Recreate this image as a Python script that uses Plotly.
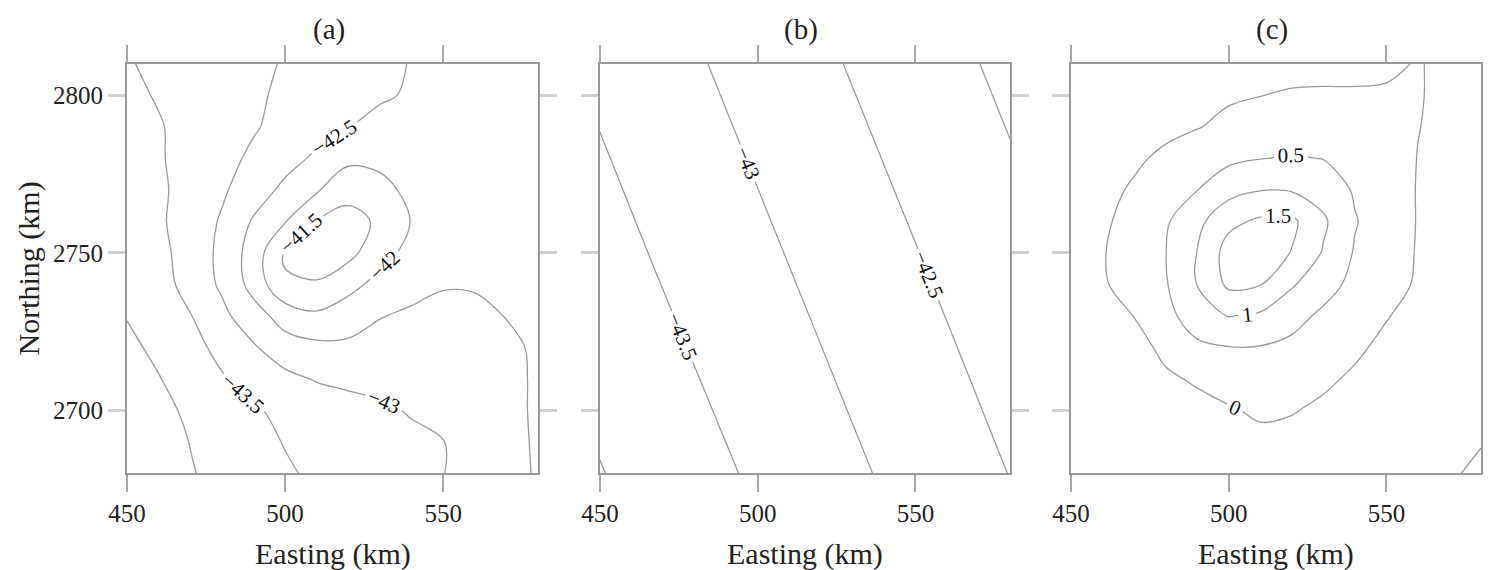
import plotly.graph_objects as go

# ---------------- data ----------------
easting = [450, 460, 470, 480, 490, 500, 510, 520, 530, 540, 550, 560, 570, 580]
northing = [2810, 2800, 2790, 2780, 2770, 2760, 2750, 2740, 2730, 2720, 2710, 2700, 2690, 2680]

# panel (a): rows follow `northing` (top to bottom), columns follow `easting`
field_a = [
    [-43.53, -43.42, -43.31, -43.20, -43.09, -42.97, -42.85, -42.73, -42.61, -42.48, -42.36, -42.24, -42.12, -42.03],
    [-43.59, -43.47, -43.33, -43.20, -43.06, -42.93, -42.81, -42.69, -42.56, -42.45, -42.36, -42.27, -42.17, -42.08],
    [-43.64, -43.53, -43.37, -43.20, -43.04, -42.86, -42.68, -42.52, -42.35, -42.30, -42.25, -42.20, -42.17, -42.12],
    [-43.66, -43.54, -43.35, -43.14, -42.92, -42.67, -42.42, -42.10, -42.10, -42.22, -42.30, -42.30, -42.28, -42.25],
    [-43.70, -43.58, -43.33, -43.07, -42.74, -42.39, -42.05, -41.70, -41.88, -42.10, -42.20, -42.30, -42.33, -42.33],
    [-43.77, -43.57, -43.29, -42.95, -42.45, -42.03, -41.48, -41.30, -41.59, -42.02, -42.25, -42.38, -42.42, -42.42],
    [-43.85, -43.64, -43.29, -42.89, -42.28, -41.45, -41.20, -41.35, -41.82, -42.15, -42.30, -42.38, -42.40, -42.40],
    [-43.90, -43.68, -43.34, -42.92, -42.33, -41.55, -41.55, -41.85, -42.15, -42.35, -42.47, -42.47, -42.45, -42.43],
    [-43.98, -43.75, -43.52, -43.12, -42.70, -42.30, -42.08, -42.25, -42.48, -42.57, -42.62, -42.58, -42.49, -42.42],
    [-44.10, -43.90, -43.65, -43.37, -43.05, -42.70, -42.62, -42.60, -42.66, -42.72, -42.73, -42.68, -42.57, -42.45],
    [-44.25, -44.02, -43.78, -43.54, -43.33, -43.13, -42.96, -42.88, -42.84, -42.82, -42.80, -42.72, -42.60, -42.45],
    [-44.35, -44.12, -43.92, -43.73, -43.54, -43.41, -43.30, -43.19, -43.08, -42.96, -42.84, -42.71, -42.58, -42.46],
    [-44.40, -44.18, -43.99, -43.81, -43.63, -43.48, -43.38, -43.29, -43.19, -43.10, -43.01, -42.82, -42.63, -42.45],
    [-44.45, -44.20, -44.03, -43.87, -43.71, -43.55, -43.43, -43.32, -43.22, -43.11, -43.01, -42.82, -42.64, -42.46],
]

# panel (b): planar trend surface, corner / mid values
easting_b = [450, 515, 580]
northing_b = [2810, 2745, 2680]
field_b = [
    [-43.40, -42.64, -41.89],
    [-43.70, -42.945, -42.19],
    [-44.02, -43.25, -42.49],
]

# panel (c): residual surface
field_c = [
    [-0.30, -0.30, -0.30, -0.25, -0.20, -0.15, -0.12, -0.10, -0.10, -0.10, -0.06, 0.02, -0.08, -0.15],
    [-0.35, -0.30, -0.25, -0.20, -0.12, -0.05, -0.005, 0.03, 0.04, 0.04, 0.04, 0.02, -0.08, -0.15],
    [-0.40, -0.30, -0.22, -0.12, -0.02, 0.10, 0.20, 0.28, 0.30, 0.26, 0.17, 0.01, -0.10, -0.20],
    [-0.40, -0.25, -0.08, 0.10, 0.26, 0.40, 0.49, 0.53, 0.49, 0.38, 0.22, -0.01, -0.12, -0.20],
    [-0.30, -0.14, 0.06, 0.30, 0.49, 0.82, 0.98, 0.96, 0.78, 0.45, 0.22, -0.02, -0.12, -0.20],
    [-0.25, -0.08, 0.18, 0.44, 0.86, 1.38, 1.58, 1.60, 1.08, 0.53, 0.25, -0.02, -0.12, -0.20],
    [-0.25, -0.03, 0.24, 0.49, 1.01, 1.70, 1.80, 1.48, 0.96, 0.46, 0.22, -0.03, -0.12, -0.20],
    [-0.30, -0.05, 0.20, 0.46, 1.01, 1.60, 1.52, 1.05, 0.72, 0.35, 0.17, -0.05, -0.15, -0.22],
    [-0.45, -0.25, 0.01, 0.34, 0.78, 1.02, 0.93, 0.68, 0.40, 0.20, 0.02, -0.12, -0.20, -0.25],
    [-0.55, -0.40, -0.15, 0.10, 0.40, 0.49, 0.48, 0.38, 0.22, 0.06, -0.08, -0.15, -0.22, -0.25],
    [-0.60, -0.50, -0.30, -0.06, 0.05, 0.15, 0.20, 0.16, 0.06, -0.05, -0.12, -0.18, -0.22, -0.25],
    [-0.60, -0.55, -0.45, -0.30, -0.12, -0.03, 0.05, 0.02, -0.06, -0.12, -0.18, -0.20, -0.20, -0.20],
    [-0.60, -0.55, -0.45, -0.35, -0.25, -0.15, -0.08, -0.10, -0.15, -0.18, -0.20, -0.15, -0.08, -0.02],
    [-0.60, -0.55, -0.50, -0.40, -0.30, -0.22, -0.17, -0.18, -0.20, -0.20, -0.18, -0.12, -0.05, 0.08],
]

levels_ab = dict(start=-44.0, end=-41.5, size=0.5)
levels_c = dict(start=0.0, end=1.5, size=0.5)

x_tick_values = [450, 500, 550]
y_tick_values = [2700, 2750, 2800]
panel_titles = ["(a)", "(b)", "(c)"]
x_title = "Easting (km)"
y_title = "Northing (km)"

# ---------------- figure ----------------
W, H = 1491, 570
FONT = "Liberation Serif"
LINE_COLOR = "#9a9a9a"

# panel placement in pixels (left, right), shared top/bottom
panels_px = [(119, 530), (592, 1002), (1063, 1473)]
top_px, bottom_px = 56, 465


def px_x(p):
    return p / W


def px_y(p):
    return 1 - p / H


def contour(x, y, z, levels, xa, ya):
    return go.Contour(
        x=x, y=y[::-1], z=z[::-1],
        xaxis=xa, yaxis=ya,
        contours=dict(
            start=levels["start"], end=levels["end"], size=levels["size"],
            coloring="none", showlabels=True,
            labelfont=dict(family=FONT, size=21, color="#111111"),
        ),
        line=dict(color=LINE_COLOR, width=1.3, smoothing=1.0),
        showscale=False, hoverinfo="skip",
    )


fig = go.Figure()
fig.add_trace(contour(easting, northing, field_a, levels_ab, "x", "y"))
fig.add_trace(contour(easting_b, northing_b, field_b, levels_ab, "x2", "y2"))
fig.add_trace(contour(easting, northing, field_c, levels_c, "x3", "y3"))

layout = dict(
    template="none",
    width=W, height=H, autosize=False,
    margin=dict(l=0, r=0, t=0, b=0, pad=0, autoexpand=False),
    paper_bgcolor="white", plot_bgcolor="white",
    font=dict(family=FONT, size=25, color="#222222"),
    showlegend=False,
)

ydom = [px_y(bottom_px), px_y(top_px)]
annotations = []
for i, (l, r) in enumerate(panels_px):
    sfx = "" if i == 0 else str(i + 1)
    layout["xaxis" + sfx] = dict(
        domain=[px_x(l), px_x(r)], range=[450, 580], anchor="y" + sfx,
        automargin=False,
        tickmode="array", tickvals=x_tick_values,
        ticks="outside", ticklen=17, tickwidth=2, tickcolor="#a8a8a8",
        showline=True, linecolor="#999999", linewidth=2, mirror="allticks",
        showgrid=False, zeroline=False,
        tickfont=dict(family=FONT, size=25, color="#222222"),
    )
    layout["yaxis" + sfx] = dict(
        domain=ydom, range=[2680, 2810], anchor="x" + sfx,
        automargin=False,
        tickmode="array", tickvals=y_tick_values,
        ticks="outside", ticklen=17, tickwidth=3, tickcolor="#d0d0d0",
        showline=True, linecolor="#999999", linewidth=2, mirror="allticks",
        showgrid=False, zeroline=False,
        showticklabels=(i == 0),
        tickfont=dict(family=FONT, size=25, color="#222222"),
    )
    cx = (l + r) / 2
    annotations.append(dict(
        text=panel_titles[i], x=px_x(cx - 4), y=px_y(21), xref="paper", yref="paper",
        showarrow=False, xanchor="center", yanchor="middle",
        font=dict(family=FONT, size=29, color="#222222"),
    ))
    annotations.append(dict(
        text=x_title, x=px_x(cx), y=px_y(546), xref="paper", yref="paper",
        showarrow=False, xanchor="center", yanchor="middle",
        font=dict(family=FONT, size=30, color="#222222"),
    ))

annotations.append(dict(
    text=y_title, x=px_x(20), y=(ydom[0] + ydom[1]) / 2, xref="paper", yref="paper",
    showarrow=False, xanchor="center", yanchor="middle", textangle=-90,
    font=dict(family=FONT, size=30, color="#222222"),
))
layout["annotations"] = annotations

fig.update_layout(**layout)
fig.write_html("out.html")
